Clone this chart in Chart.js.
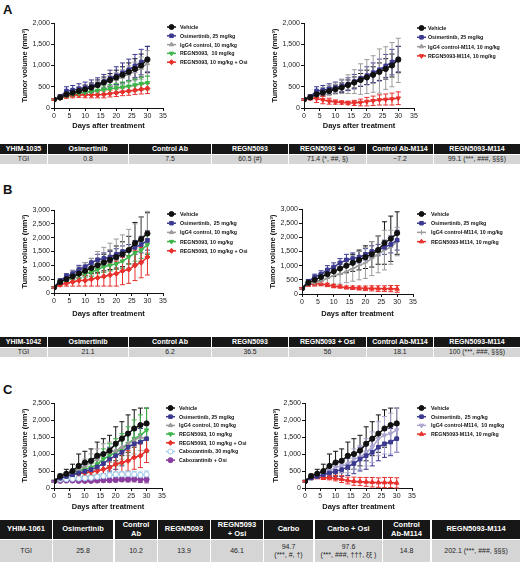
<!DOCTYPE html>
<html>
<head>
<meta charset="utf-8">
<script src="https://cdn.jsdelivr.net/npm/chart.js@4.4.0/dist/chart.umd.min.js"></script>
<style>
body{margin:0;background:#fff;width:520px;height:572px;position:relative;overflow:hidden;font-family:"Liberation Sans",Arial,sans-serif}
.panel{position:absolute;left:3px;font-weight:bold;font-size:13px;line-height:13px;color:#111}
canvas{position:absolute}
.c{position:absolute;display:flex;align-items:center;justify-content:center;text-align:center;box-sizing:border-box}
.h{background:#171717;color:#fff;font-weight:bold}
.d{background:#d5d5d5;color:#1e1e1e}
</style>
</head>
<body>
<div class="panel" style="top:3px">A</div>
<div class="panel" style="top:183px">B</div>
<div class="panel" style="top:383px">C</div>
<script>
var days = [0,2,4,6,8,10,12,14,16,18,20,22,24,26,28,30];

// panel A - YHIM-1035
var aVehicle    = [200,250,320,360,400,440,480,540,600,660,720,780,850,920,1000,1140];
var aVehicleErr = [20,40,70,80,90,100,110,120,130,150,170,190,210,240,270,310];
var aOsi        = [200,270,400,420,450,480,520,560,620,700,760,830,900,990,1080,1150];
var aOsiErr     = [20,40,100,110,120,130,140,150,170,190,210,230,250,270,300,300];
var aIgg        = [200,250,330,370,400,440,480,520,570,630,680,730,800,860,940,1050];
var aIggErr     = [20,30,60,70,80,90,100,110,120,130,150,170,190,220,260,300];
var aRegn       = [200,240,300,330,350,370,390,410,430,450,470,490,510,540,570,590];
var aRegnErr    = [20,30,50,60,60,70,70,80,90,100,110,120,130,140,150,160];
var aCombo      = [200,230,280,300,310,310,310,310,320,340,360,380,400,420,440,460];
var aComboErr   = [20,30,50,60,60,70,70,70,80,80,90,90,100,100,110,120];
var aIggM       = [200,260,340,380,420,460,510,560,620,680,740,800,870,940,1020,1120];
var aIggMErr    = [20,40,90,100,110,130,170,220,280,360,400,430,520,500,520,520];
var aM114       = [200,230,220,190,160,140,130,120,120,130,150,170,190,200,210,230];
var aM114Err    = [20,40,90,90,70,50,40,40,60,80,100,110,120,130,140,150];

// panel B - YHIM-1042
var bVehicle    = [200,400,500,600,700,800,900,1000,1100,1200,1300,1400,1550,1800,1950,2150];
var bVehicleErr = [30,60,100,120,150,180,200,250,300,350,400,450,500,750,800,750];
var bOsi        = [200,450,600,700,850,950,1100,1200,1250,1300,1400,1500,1550,1650,1750,1900];
var bOsiErr     = [30,60,100,120,150,150,150,200,200,200,200,200,200,250,300,350];
var bIgg        = [200,450,550,650,750,850,950,1100,1200,1300,1400,1500,1600,1750,1950,2200];
var bIggErr     = [30,60,100,150,200,250,300,400,450,500,550,600,700,750,800,750];
var bRegn       = [200,400,500,600,650,700,750,850,950,1000,1050,1150,1300,1450,1550,1750];
var bRegnErr    = [30,50,80,100,120,150,150,150,200,200,200,250,250,300,300,350];
var bCombo      = [200,300,350,400,450,450,500,550,600,650,700,800,850,1000,1100,1300];
var bComboErr   = [30,60,100,150,200,200,250,300,350,400,450,500,500,550,550,650];
var bIggM       = [200,350,400,450,550,650,700,800,900,1000,1100,1250,1400,1550,1650,1850];
var bIggMErr    = [30,60,100,150,200,300,350,400,450,500,550,600,650,700,600,500];
var bM114       = [200,330,360,360,320,280,260,230,220,210,200,200,190,190,190,180];
var bM114Err    = [30,60,80,70,60,60,50,50,60,70,80,90,100,100,110,120];

// panel C - YHIM-1061
var cVehicle    = [200,350,420,500,650,750,800,950,1000,1100,1300,1450,1600,1750,1850,1900];
var cVehicleErr = [30,60,130,200,350,330,350,400,450,450,500,500,550,550,500,450];
var cOsi        = [200,290,340,390,440,490,540,620,720,850,950,1050,1200,1300,1350,1450];
var cOsiErr     = [20,40,60,80,100,150,200,250,300,350,400,400,400,400,400,400];
var cIgg        = [200,300,350,450,550,650,750,850,1000,1050,1100,1200,1300,1400,1500,1450];
var cIggErr     = [20,40,80,100,150,200,250,300,300,300,350,350,350,400,400,400];
var cRegn       = [200,300,350,450,500,550,600,700,850,950,1050,1150,1300,1450,1550,1700];
var cRegnErr    = [20,50,80,100,150,200,250,300,300,350,400,450,500,550,600,650];
var cCombo      = [200,300,380,420,430,450,480,500,550,600,700,750,800,900,950,1100];
var cComboErr   = [20,40,60,80,100,100,100,120,150,200,250,300,300,350,350,350];
var cCabo       = [200,250,260,270,280,290,300,330,350,380,400,400,410,400,380,400];
var cCaboErr    = [20,30,40,50,50,60,60,70,70,80,80,80,90,90,90,100];
var cCaboOsi    = [200,210,220,220,210,210,210,220,230,230,240,250,250,260,250,250];
var cCaboOsiErr = [20,30,30,40,40,40,40,50,50,50,60,60,70,80,90,100];
var cIggM       = [200,320,350,400,500,600,650,700,850,900,1050,1200,1450,1550,1600,1700];
var cIggMErr    = [20,40,60,80,100,150,200,250,300,350,400,450,500,550,600,650];
var cM114       = [200,300,320,300,300,290,260,220,200,190,180,170,160,160,160,150];
var cM114Err    = [20,40,50,50,60,80,100,100,120,120,130,140,140,150,150,150];

var BLACK = '#111', OSI = '#3b3990', GREY = '#9c9c9c', GREEN = '#3db54a', RED = '#e8302c',
    CABO = '#9ccaea', CABOOSI = '#8a3d9e', LAV = '#aaa6cf';

function ser(label, vals, errs, color, style, extra) {
  var ds = {
    label: label,
    data: days.map(function(d, i) { return {x: d, y: vals[i]}; }),
    errs: errs,
    borderColor: color,
    backgroundColor: color,
    pointBackgroundColor: color,
    pointBorderColor: color,
    pointStyle: style,
    pointRadius: 2.6,
    pointBorderWidth: 1,
    borderWidth: 1.5,
    tension: 0
  };
  for (var k in extra) ds[k] = extra[k];
  return ds;
}

var errBars = {
  id: 'errBars',
  beforeDatasetsDraw: function(chart) {
    var ctx = chart.ctx, ys = chart.scales.y;
    chart.data.datasets.forEach(function(ds, i) {
      var meta = chart.getDatasetMeta(i);
      ctx.save();
      ctx.strokeStyle = ds.borderColor;
      ctx.lineWidth = 1;
      meta.data.forEach(function(pt, j) {
        var v = ds.data[j].y, e = ds.errs[j];
        var yt = ys.getPixelForValue(v + e), yb = ys.getPixelForValue(Math.max(0, v - e));
        ctx.beginPath();
        ctx.moveTo(pt.x, yt); ctx.lineTo(pt.x, yb);
        ctx.moveTo(pt.x - 2.5, yt); ctx.lineTo(pt.x + 2.5, yt);
        ctx.moveTo(pt.x - 2.5, yb); ctx.lineTo(pt.x + 2.5, yb);
        ctx.stroke();
      });
      ctx.restore();
    });
  }
};

var sideLegend = {
  id: 'sideLegend',
  afterDraw: function(chart) {
    var o = chart.options.plugins.sideLegend;
    var ctx = chart.ctx, a = chart.chartArea;
    var y = a.top + o.dy;
    chart.data.datasets.forEach(function(ds) {
      var x0 = a.right + o.dx;
      ctx.save();
      ctx.strokeStyle = ds.borderColor;
      ctx.lineWidth = 1.5;
      ctx.beginPath(); ctx.moveTo(x0, y); ctx.lineTo(x0 + 9, y); ctx.stroke();
      ctx.fillStyle = ds.pointBackgroundColor;
      ctx.lineWidth = 1;
      Chart.helpers.drawPoint(ctx, {pointStyle: ds.pointStyle, radius: 2.5, rotation: ds.rotation || 0, borderWidth: 1}, x0 + 4.5, y);
      ctx.fillStyle = '#111';
      ctx.font = 'bold 5.3px "Liberation Sans", Arial';
      ctx.textBaseline = 'middle';
      ctx.fillText(ds.label, a.right + o.tx, y + 0.5);
      ctx.restore();
      y += o.gap;
    });
  }
};

function makeChart(box, area, yMax, datasets, leg) {
  var cv = document.createElement('canvas');
  cv.width = box.w; cv.height = box.h;
  cv.style.left = box.left + 'px'; cv.style.top = box.top + 'px';
  document.body.appendChild(cv);
  var yw = 34;
  var xh = box.top + box.h - area.b;
  new Chart(cv.getContext('2d'), {
    type: 'line',
    data: {datasets: datasets},
    plugins: [errBars, sideLegend],
    options: {
      responsive: false,
      animation: false,
      devicePixelRatio: 1,
      layout: {padding: {left: area.l - box.left - yw, right: box.left + box.w - area.r, top: area.t - box.top, bottom: 0}},
      plugins: {legend: {display: false}, tooltip: {enabled: false}, sideLegend: leg},
      scales: {
        x: {
          type: 'linear', min: 0, max: 35,
          afterFit: function(s) { s.height = xh; },
          grid: {drawOnChartArea: false, drawTicks: true, tickLength: 3, color: '#111'},
          border: {color: '#111', width: 1},
          ticks: {stepSize: 5, padding: 1, color: '#222', font: {size: 7, family: '"Liberation Sans", Arial'}},
          title: {display: true, text: 'Days after treatment', color: '#111', padding: {top: 0, bottom: 1},
                  font: {size: 7.5, weight: 'bold', family: '"Liberation Sans", Arial'}}
        },
        y: {
          min: 0, max: yMax,
          afterFit: function(s) { s.width = yw; },
          grid: {drawOnChartArea: false, drawTicks: true, tickLength: 3, color: '#111'},
          border: {color: '#111', width: 1},
          ticks: {stepSize: 500, padding: 1, color: '#222', font: {size: 7, family: '"Liberation Sans", Arial'},
                  callback: function(v) { return v.toLocaleString('en-US'); }},
          title: {display: true, text: 'Tumor volume (mm³)', color: '#111', padding: {top: 0, bottom: 0},
                  font: {size: 7.5, weight: 'bold', family: '"Liberation Sans", Arial'}}
        }
      }
    }
  });
}

var down = {pointRotation: 180, rotation: 180};

// A
makeChart({left: 0, top: 0, w: 260, h: 131}, {l: 54, r: 163, t: 23, b: 108}, 2000, [
  ser('Vehicle', aVehicle, aVehicleErr, BLACK, 'circle'),
  ser('Osimertinib, 25 mg/kg', aOsi, aOsiErr, OSI, 'rect'),
  ser('IgG4 control, 10 mg/kg', aIgg, aIggErr, GREY, 'triangle'),
  ser('REGN5093,  10 mg/kg', aRegn, aRegnErr, GREEN, 'triangle', down),
  ser('REGN5093, 10 mg/kg + Osi', aCombo, aComboErr, RED, 'rectRot')
], {dx: 4, tx: 17, dy: 4, gap: 8.8});
makeChart({left: 260, top: 0, w: 260, h: 131}, {l: 304, r: 414, t: 23, b: 108}, 2000, [
  ser('Vehicle', aVehicle, aVehicleErr, BLACK, 'circle'),
  ser('Osimertinib, 25 mg/kg', aOsi, aOsiErr, OSI, 'rect'),
  ser('IgG4 control-M114, 10 mg/kg', aIggM, aIggMErr, GREY, 'triangle'),
  ser('REGN5093-M114, 10 mg/kg', aM114, aM114Err, RED, 'triangle', down)
], {dx: 3, tx: 14, dy: 5, gap: 9.3});

// B
makeChart({left: 0, top: 180, w: 260, h: 139}, {l: 54, r: 163, t: 210, b: 293}, 3000, [
  ser('Vehicle', bVehicle, bVehicleErr, BLACK, 'circle'),
  ser('Osimertinib,  25 mg/kg', bOsi, bOsiErr, OSI, 'rect'),
  ser('IgG4 control, 10 mg/kg', bIgg, bIggErr, GREY, 'triangle'),
  ser('REGN5093, 10 mg/kg', bRegn, bRegnErr, GREEN, 'triangle', down),
  ser('REGN5093, 10 mg/kg + Osi', bCombo, bComboErr, RED, 'rectRot')
], {dx: 4, tx: 17, dy: 4, gap: 9.2});
makeChart({left: 260, top: 180, w: 260, h: 139}, {l: 302, r: 413, t: 209, b: 294}, 3000, [
  ser('Vehicle', bVehicle, bVehicleErr, BLACK, 'circle'),
  ser('Osimertinib, 25 mg/kg', bOsi, bOsiErr, OSI, 'rect'),
  ser('IgG4 control-M114, 10 mg/kg', bIggM, bIggMErr, GREY, 'cross'),
  ser('REGN5093-M114, 10 mg/kg', bM114, bM114Err, RED, 'triangle')
], {dx: 4, tx: 18, dy: 5, gap: 9.2});

// C
makeChart({left: 0, top: 365, w: 260, h: 147}, {l: 54, r: 162, t: 403, b: 488}, 2500, [
  ser('Vehicle', cVehicle, cVehicleErr, BLACK, 'circle'),
  ser('Osimertinib, 25 mg/kg', cOsi, cOsiErr, OSI, 'rect'),
  ser('IgG4 control, 10 mg/kg', cIgg, cIggErr, GREY, 'triangle'),
  ser('REGN5093, 10 mg/kg', cRegn, cRegnErr, GREEN, 'triangle', down),
  ser('REGN5093, 10 mg/kg + Osi', cCombo, cComboErr, RED, 'rectRot'),
  ser('Cabozantinib, 30 mg/kg', cCabo, cCaboErr, CABO, 'circle', {pointBackgroundColor: '#fff'}),
  ser('Cabozantinib + Osi', cCaboOsi, cCaboOsiErr, CABOOSI, 'circle')
], {dx: 4, tx: 17, dy: 5, gap: 8.7});
makeChart({left: 260, top: 365, w: 260, h: 147}, {l: 305, r: 412, t: 403, b: 488}, 2500, [
  ser('Vehicle', cVehicle, cVehicleErr, BLACK, 'circle'),
  ser('Osimertinib,  25 mg/kg', cOsi, cOsiErr, OSI, 'rect'),
  ser('IgG4 control-M114,  10 mg/kg', cIggM, cIggMErr, LAV, 'triangle', down),
  ser('REGN5093-M114, 10 mg/kg', cM114, cM114Err, RED, 'triangle')
], {dx: 5, tx: 19, dy: 5, gap: 8.7});

// TGI tables
function makeTable(top, hh, dh, cols, heads, vals, fh, fd) {
  cols.forEach(function(c, i) {
    var h = document.createElement('div');
    h.className = 'c h';
    h.style.cssText = 'left:' + c[0] + 'px;width:' + (c[1] - c[0]) + 'px;top:' + top + 'px;height:' + hh + 'px;font-size:' + fh + 'px;line-height:' + (fh + 1) + 'px';
    h.innerHTML = heads[i];
    document.body.appendChild(h);
    var d = document.createElement('div');
    d.className = 'c d';
    d.style.cssText = 'left:' + c[0] + 'px;width:' + (c[1] - c[0]) + 'px;top:' + (top + hh + 1) + 'px;height:' + dh + 'px;font-size:' + fd + 'px;line-height:' + (fd + 1.5) + 'px';
    d.innerHTML = vals[i];
    document.body.appendChild(d);
  });
}
var colsAB = [[0,47],[48,128],[129,211],[212,288],[289,366],[367,433],[434,520]];
makeTable(144, 10, 9, colsAB,
  ['YHIM-1035','Osimertinib','Control Ab','REGN5093','REGN5093 + Osi','Control Ab-M114','REGN5093-M114'],
  ['TGI','0.8','7.5','60.5 (#)','71.4 (*, ##, §)','\u22127.2','99.1 (***, ###, §§§)'], 7, 6.8);
makeTable(337, 10, 9, colsAB,
  ['YHIM-1042','Osimertinib','Control Ab','REGN5093','REGN5093 + Osi','Control Ab-M114','REGN5093-M114'],
  ['TGI','21.1','6.2','36.5','56','18.1','100 (***, ###, §§§)'], 7, 6.8);
makeTable(520, 19, 22, [[0,52],[53,113],[115,157],[158,210],[211,263],[264,313],[315,382],[383,430],[432,520]],
  ['YHIM-1061','Osimertinib','Control<br>Ab','REGN5093','REGN5093<br>+ Osi','Carbo','Carbo + Osi','Control<br>Ab-M114','REGN5093-M114'],
  ['TGI','25.8','10.2','13.9','46.1','94.7<br>(***, #, †)','97.6<br>(***, ###, †††, ξξ )','14.8','202.1 (***, ###, §§§)'], 7.5, 7);
</script>
</body>
</html>
